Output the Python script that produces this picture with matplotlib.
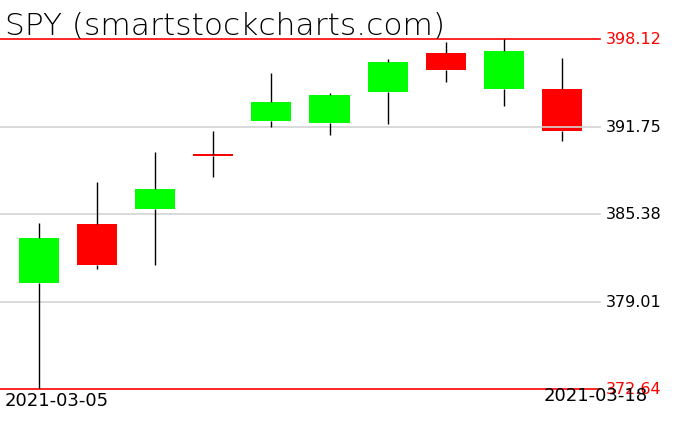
import numpy as np
import matplotlib
matplotlib.use('Agg')
import matplotlib.pyplot as plt

# daily candles
dates = ['2021-03-05', '2021-03-08', '2021-03-09', '2021-03-10', '2021-03-11',
         '2021-03-12', '2021-03-15', '2021-03-16', '2021-03-17', '2021-03-18']
opens = [380.38, 384.65, 385.74, 389.64, 392.17, 392.03, 394.28, 397.10, 394.50, 394.48]
highs = [384.72, 387.71, 389.89, 391.44, 395.65, 394.19, 396.64, 397.92, 398.12, 396.74]
lows = [372.64, 381.40, 381.69, 388.10, 391.74, 391.15, 391.93, 395.01, 393.26, 390.72]
closes = [383.63, 381.69, 387.20, 389.60, 393.53, 394.04, 396.45, 395.88, 397.25, 391.44]

y_levels = [398.12, 391.75, 385.38, 379.01, 372.64]
title = 'SPY (smartstockcharts.com)'

W, H = 676, 431
fig = plt.figure(figsize=(W / 100, H / 100), dpi=100)
# plot area in pixels: x 0..600, y 40..390
ax = fig.add_axes([0, (H - 390) / H, 600 / W, 350 / H])

o = np.array(opens)
c = np.array(closes)
hi = np.array(highs)
lo = np.array(lows)
x = np.arange(len(dates))
up = c >= o
colors = np.where(up, '#00ff00', '#ff0000')
body_lo = np.minimum(o, c)
body_hi = np.maximum(o, c)
body_h = np.maximum(body_hi - body_lo, 0.12)

ax.bar(x, body_h, bottom=body_lo, width=0.69, color=colors, linewidth=0, zorder=1)

# grid lines (drawn over the bodies, like the original)
for i, lv in enumerate(y_levels):
    col = '#ff0000' if i in (0, len(y_levels) - 1) else '#d3d3d3'
    ax.axhline(lv, color=col, lw=1.2, zorder=2, clip_on=False)

# wicks
ax.vlines(x, body_hi, hi, color='black', lw=1, zorder=3)
ax.vlines(x, lo, body_lo, color='black', lw=1, zorder=3)

ax.set_xlim(-39 / 58.1, (600 - 39) / 58.1)
ax.set_ylim(min(y_levels), max(y_levels))
ax.set_facecolor('white')
for s in ax.spines.values():
    s.set_visible(False)

ax.set_xticks([])
ax.yaxis.tick_right()
ax.set_yticks(y_levels)
ax.set_yticklabels(['%.2f' % v for v in y_levels])
ax.tick_params(axis='y', length=0, pad=4, labelsize=11.5, labelcolor='black')
tl = ax.get_yticklabels()
tl[0].set_color('#ff0000')
tl[-1].set_color('#ff0000')
for t in tl:
    t.set_va('center')

fig.text(5 / W, 1 - 35 / H, title, fontsize=22.5, fontweight='light',
         family='DejaVu Sans', va='baseline', ha='left', color='black')
fig.text(5 / W, 1 - 406 / H, dates[0], fontsize=13, va='baseline', ha='left')
fig.text(648 / W, 1 - 401 / H, dates[-1], fontsize=13, va='baseline', ha='right')

fig.savefig('out.png', dpi=100, facecolor='white')
